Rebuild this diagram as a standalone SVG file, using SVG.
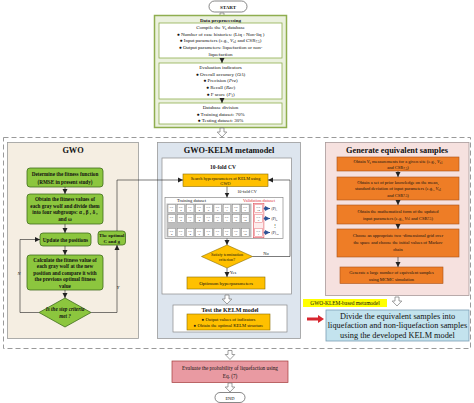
<svg xmlns="http://www.w3.org/2000/svg" width="474" height="403" viewBox="0 0 474 403">
<defs>
<marker id="ah" markerWidth="6" markerHeight="6" refX="5" refY="3" orient="auto" markerUnits="userSpaceOnUse"><path d="M0,0.5 L5,3 L0,5.5 z" fill="#222"/></marker>
<marker id="ahb" markerWidth="6" markerHeight="6" refX="5" refY="3" orient="auto" markerUnits="userSpaceOnUse"><path d="M0,0.5 L5,3 L0,5.5 z" fill="#2f5496"/></marker>
<path id="hollow" d="M-2,0 h4 v4 h2.8 l-4.8,5 l-4.8,-5 h2.8 z" fill="#fff" stroke="#777" stroke-width="0.7"/>
<style>
text{font-family:"Liberation Serif","Times New Roman",serif;fill:#111}
.t5{font-size:5px;text-anchor:middle}
.gb{font-size:5.2px;font-weight:bold;text-anchor:middle}
.ttl{font-size:8.3px;font-weight:bold;text-anchor:middle}
.or{font-size:4.5px;text-anchor:middle}
.cv{font-size:2.8px;text-anchor:middle}
.ln{fill:none;stroke:#222;stroke-width:0.6}
.green{fill:#8cc63e;stroke:#3f6d1c;stroke-width:0.8}
.gold{fill:#ffc000;stroke:#8a6d00;stroke-width:0.6}
.orange{fill:#ee7d26;stroke:#a8521a;stroke-width:0.6}
.inner{fill:#fff;stroke:#8fae4f;stroke-width:0.8}
</style>
</defs>

<g id="start"><rect x="209" y="1" width="38" height="11" rx="5.5" fill="#fff" stroke="#555" stroke-width="0.7"/><text x="228" y="9" class="t5" font-weight="bold">START</text></g>
<use href="#hollow" x="222" y="13"/>

<g id="data-preprocessing">
<rect x="154.5" y="15.5" width="132" height="112" fill="#ebf1de" stroke="#8fae4f" stroke-width="1.5"/>
<text x="220.5" y="21.5" class="t5" font-weight="bold">Data preprocessing</text>
<rect x="159" y="23" width="123" height="35" class="inner"/>
<text x="220.5" y="28.5" class="t5">Compile the <tspan font-style="italic">V</tspan><tspan font-size="3.5" dy="1">s</tspan><tspan dy="-1"> database</tspan></text>
<text x="220.5" y="35.5" class="t5">● Number of case histories:  (Liq : Non-liq )</text>
<text x="220.5" y="42" class="t5">● Input parameters (e.g., <tspan font-style="italic">V</tspan><tspan font-size="3.5" dy="1">s1</tspan><tspan dy="-1"> and CSR</tspan><tspan font-size="3.5" dy="1">7.5</tspan><tspan dy="-1">)</tspan></text>
<text x="220.5" y="49" class="t5">● Output parameters: liquefaction or non-</text>
<text x="220.5" y="55.5" class="t5">liquefaction</text>
<rect x="159" y="63" width="123" height="36" class="inner"/>
<text x="220.5" y="69" class="t5">Evaluation indicators</text>
<text x="220.5" y="75.5" class="t5">● Overall accuracy (<tspan font-style="italic">OA</tspan>)</text>
<text x="220.5" y="82" class="t5">● Precision (<tspan font-style="italic">Pre</tspan>)</text>
<text x="220.5" y="88.5" class="t5">● Recall (<tspan font-style="italic">Rec</tspan>)</text>
<text x="220.5" y="95.5" class="t5">● F score (<tspan font-style="italic">F</tspan><tspan font-size="3.5" dy="1">1</tspan><tspan dy="-1">)</tspan></text>
<rect x="159" y="103" width="123" height="21" class="inner"/>
<text x="220.5" y="109" class="t5">Database division</text>
<text x="220.5" y="115.5" class="t5">● Training dataset: 70%</text>
<text x="220.5" y="122" class="t5">● Testing dataset: 30%</text>
</g>
<use href="#hollow" x="222" y="128"/>

<rect x="3.5" y="137.5" width="467" height="211" fill="none" stroke="#9a9a9a" stroke-width="1" stroke-dasharray="5 3"/>

<g id="gwo-panel">
<rect x="7.5" y="142.5" width="131" height="196" fill="#f5eee2" stroke="#9a9a9a" stroke-width="0.8"/>
<text x="73" y="153" class="ttl">GWO</text>
</g>
<g id="gwo-determine"><rect x="27" y="168" width="76" height="19" rx="3" class="green"/>
<text x="65" y="176" class="gb">Determine the fitness function</text><text x="65" y="183.5" class="gb">(RMSE in present study)</text></g>
<g id="gwo-obtain"><rect x="27" y="194" width="76" height="30" rx="3" class="green"/>
<text x="65" y="201" class="gb">Obtain the fitness values of</text><text x="65" y="207.5" class="gb">each gray wolf and divide them</text><text x="65" y="214" class="gb">into four subgroups: α , β , δ ,</text><text x="65" y="220.5" class="gb">and ω</text></g>
<g id="gwo-update"><rect x="40" y="233" width="51" height="13" rx="3" class="green"/><text x="65.5" y="241.5" class="gb">Update the positions</text></g>
<g id="gwo-optimal"><rect x="98" y="231" width="27.5" height="14" rx="3" class="green"/><text x="111.7" y="237.3" class="gb" style="font-size:4.9px">The optimal</text><text x="111.7" y="243.3" class="gb" style="font-size:4.9px">C and g</text></g>
<g id="gwo-calculate"><rect x="27" y="255" width="76" height="35" rx="3" class="green"/>
<text x="65" y="261.5" class="gb">Calculate the fitness value of</text><text x="65" y="268" class="gb">each gray wolf at the new</text><text x="65" y="274.5" class="gb">position and compare it with</text><text x="65" y="281" class="gb">the previous optimal fitness</text><text x="65" y="287.5" class="gb">value</text></g>
<g id="gwo-criteria"><path d="M65,298 L91,312.5 L65,327 L39,312.5 z" class="green"/>
<text x="65" y="311" class="gb" font-style="italic">Is the step criteria</text><text x="65" y="317.5" class="gb" font-style="italic">met ?</text></g>

<g id="kelm-panel">
<rect x="157.5" y="142.5" width="143" height="196" fill="#dde5ee" stroke="#9a9a9a" stroke-width="0.8"/>
<text x="229" y="153" class="ttl">GWO-KELM metamodel</text>
<rect x="162" y="158" width="129.5" height="136" fill="#fff" stroke="#8a8a8a" stroke-width="0.7"/>
<text x="223" y="169" class="t5" style="font-size:5.5px" font-weight="bold">10-fold CV</text>
</g>
<g id="kelm-search"><rect x="183" y="174" width="85" height="12.5" class="gold"/>
<text x="225.5" y="179.5" class="or" style="font-size:4.3px">Search hyperparameters of KELM using</text><text x="225.5" y="184.7" class="or" style="font-size:4.3px">GWO</text></g>
<g id="kelm-cv">
<text x="247" y="193" class="or" style="font-size:4.3px">10-fold CV</text>
<rect x="165" y="197.5" width="118" height="41" fill="#fff" stroke="#8a8a8a" stroke-width="0.7"/>
<text x="177" y="202.3" style="font-size:4.5px">Training dataset</text>
<text x="243" y="202.3" style="font-size:4.5px;fill:#e0303a">Validation dataset</text>
<rect x="166.5" y="203.5" width="85" height="34" fill="#bdbdbd"/>
<rect x="253.3" y="203.3" width="10.6" height="34.4" fill="#fdecec" stroke="#e0505a" stroke-width="0.6"/>
<g fill="#fff" stroke="#7a7a7a" stroke-width="0.4">
<rect x="168" y="204.5" width="7.5" height="8"/><rect x="177.2" y="204.5" width="7.5" height="8"/><rect x="186.4" y="204.5" width="7.5" height="8"/><rect x="195.6" y="204.5" width="7.5" height="8"/><rect x="204.8" y="204.5" width="7.5" height="8"/><rect x="214" y="204.5" width="7.5" height="8"/><rect x="223.2" y="204.5" width="7.5" height="8"/><rect x="232.4" y="204.5" width="7.5" height="8"/><rect x="241.6" y="204.5" width="7.5" height="8"/>
<rect x="168" y="214.5" width="7.5" height="8"/><rect x="177.2" y="214.5" width="7.5" height="8"/><rect x="186.4" y="214.5" width="7.5" height="8"/><rect x="195.6" y="214.5" width="7.5" height="8"/><rect x="204.8" y="214.5" width="7.5" height="8"/><rect x="214" y="214.5" width="7.5" height="8"/><rect x="223.2" y="214.5" width="7.5" height="8"/><rect x="232.4" y="214.5" width="7.5" height="8"/><rect x="241.6" y="214.5" width="7.5" height="8"/>
<rect x="168" y="228.5" width="7.5" height="8"/><rect x="177.2" y="228.5" width="7.5" height="8"/><rect x="186.4" y="228.5" width="7.5" height="8"/><rect x="195.6" y="228.5" width="7.5" height="8"/><rect x="204.8" y="228.5" width="7.5" height="8"/><rect x="214" y="228.5" width="7.5" height="8"/><rect x="223.2" y="228.5" width="7.5" height="8"/><rect x="232.4" y="228.5" width="7.5" height="8"/><rect x="241.6" y="228.5" width="7.5" height="8"/>
</g>
<g fill="#fff" stroke="#e0505a" stroke-width="0.4"><rect x="254.8" y="204.5" width="7.5" height="8"/><rect x="254.8" y="214.5" width="7.5" height="8"/><rect x="254.8" y="228.5" width="7.5" height="8"/></g>
<g class="cv">
<text x="171.7" y="208" class="cv">CV</text><text x="180.9" y="208" class="cv">CV</text><text x="190.1" y="208" class="cv">CV</text><text x="199.3" y="208" class="cv">CV</text><text x="208.5" y="208" class="cv">CV</text><text x="217.7" y="208" class="cv">CV</text><text x="226.9" y="208" class="cv">CV</text><text x="236.1" y="208" class="cv">CV</text><text x="245.3" y="208" class="cv">CV</text><text x="258.5" y="208" class="cv">CV</text>
<text x="171.7" y="211" class="cv">1</text><text x="180.9" y="211" class="cv">2</text><text x="190.1" y="211" class="cv">3</text><text x="199.3" y="211" class="cv">4</text><text x="208.5" y="211" class="cv">5</text><text x="217.7" y="211" class="cv">6</text><text x="226.9" y="211" class="cv">7</text><text x="236.1" y="211" class="cv">8</text><text x="245.3" y="211" class="cv">9</text><text x="258.5" y="211" class="cv">10</text>
<text x="171.7" y="218" class="cv">CV</text><text x="180.9" y="218" class="cv">CV</text><text x="190.1" y="218" class="cv">CV</text><text x="199.3" y="218" class="cv">CV</text><text x="208.5" y="218" class="cv">CV</text><text x="217.7" y="218" class="cv">CV</text><text x="226.9" y="218" class="cv">CV</text><text x="236.1" y="218" class="cv">CV</text><text x="245.3" y="218" class="cv">CV</text><text x="258.5" y="218" class="cv">CV</text>
<text x="171.7" y="221" class="cv">1</text><text x="180.9" y="221" class="cv">2</text><text x="190.1" y="221" class="cv">3</text><text x="199.3" y="221" class="cv">4</text><text x="208.5" y="221" class="cv">5</text><text x="217.7" y="221" class="cv">6</text><text x="226.9" y="221" class="cv">7</text><text x="236.1" y="221" class="cv">8</text><text x="245.3" y="221" class="cv">10</text><text x="258.5" y="221" class="cv">9</text>
<text x="171.7" y="232" class="cv">CV</text><text x="180.9" y="232" class="cv">CV</text><text x="190.1" y="232" class="cv">CV</text><text x="199.3" y="232" class="cv">CV</text><text x="208.5" y="232" class="cv">CV</text><text x="217.7" y="232" class="cv">CV</text><text x="226.9" y="232" class="cv">CV</text><text x="236.1" y="232" class="cv">CV</text><text x="245.3" y="232" class="cv">CV</text><text x="258.5" y="232" class="cv">CV</text>
<text x="171.7" y="235" class="cv">2</text><text x="180.9" y="235" class="cv">3</text><text x="190.1" y="235" class="cv">4</text><text x="199.3" y="235" class="cv">5</text><text x="208.5" y="235" class="cv">6</text><text x="217.7" y="235" class="cv">7</text><text x="226.9" y="235" class="cv">8</text><text x="236.1" y="235" class="cv">9</text><text x="245.3" y="235" class="cv">10</text><text x="258.5" y="235" class="cv">1</text>
</g>
<g stroke="#2f5496" stroke-width="1" marker-end="url(#ahb)"><line x1="264.5" y1="208.5" x2="270" y2="208.5"/><line x1="264.5" y1="218.5" x2="270" y2="218.5"/><line x1="264.5" y1="232.5" x2="270" y2="232.5"/></g>
<g fill="#2f5496"><circle cx="265" cy="208.5" r="1.2"/><circle cx="265" cy="218.5" r="1.2"/><circle cx="265" cy="232.5" r="1.2"/></g>
<text x="271.5" y="210" style="font-size:3.6px">(P)<tspan font-size="2.6" dy="0.8">1</tspan></text>
<text x="271.5" y="220" style="font-size:3.6px">(P)<tspan font-size="2.6" dy="0.8">2</tspan></text>
<text x="275" y="226.5" style="font-size:4px;text-anchor:middle">⋮</text>
<text x="271.5" y="234" style="font-size:3.6px">(P)<tspan font-size="2.6" dy="0.8">10</tspan></text>
</g>
<g id="kelm-terminate"><path d="M227,245 L252.5,256.5 L227,268 L201.5,256.5 z" class="gold"/>
<text x="227" y="255.5" class="or" style="font-size:4.2px">Satisfy termination</text><text x="227" y="260.5" class="or" style="font-size:4.2px">criterion?</text></g>
<g id="kelm-optimum"><rect x="187" y="277" width="78" height="12" class="gold"/><text x="226" y="284.6" class="t5">Optimum hyperparameters</text></g>
<use href="#hollow" x="227" y="295"/>
<g id="kelm-test"><rect x="173" y="305" width="114" height="27" fill="#fff" stroke="#8a8a8a" stroke-width="0.7"/>
<text x="230" y="311.5" class="t5" style="font-size:6px" font-weight="bold">Test the KELM model</text>
<rect x="187" y="314" width="83" height="16" class="gold"/>
<text x="228.5" y="320.5" class="or" style="font-size:4.6px">● Output values of indicators</text>
<text x="228.5" y="327" class="or" style="font-size:4.6px">● Obtain the optimal KELM structure</text></g>

<g id="gen-panel">
<rect x="325.5" y="142.5" width="143.5" height="153" fill="#f6e1df" stroke="#a89a9a" stroke-width="0.8"/>
<text x="397" y="153" class="ttl">Generate equivalent samples</text>
</g>
<g id="gen-1"><rect x="337" y="157" width="122" height="14" class="orange"/>
<text x="398" y="163" class="or">Obtain <tspan font-style="italic">V</tspan><tspan font-size="3.2" dy="0.8">s</tspan><tspan dy="-0.8"> measurements for a given site (e.g., </tspan><tspan font-style="italic">V</tspan><tspan font-size="3.2" dy="0.8">s1</tspan></text>
<text x="398" y="169" class="or">and CSR<tspan font-size="3.2" dy="0.8">7.5</tspan><tspan dy="-0.8">)</tspan></text></g>
<g id="gen-2"><rect x="337" y="177" width="122" height="23" class="orange"/>
<text x="398" y="183.5" class="or">Obtain a set of prior knowledge on the mean,</text>
<text x="398" y="190" class="or">standard deviation of input parameters (e.g., <tspan font-style="italic">V</tspan><tspan font-size="3.2" dy="0.8">s1</tspan></text>
<text x="398" y="196.5" class="or">and CSR<tspan font-size="3.2" dy="0.8">7.5</tspan><tspan dy="-0.8">)</tspan></text></g>
<g id="gen-3"><rect x="337" y="205" width="122" height="19" class="orange"/>
<text x="398" y="212.5" class="or">Obtain the mathematical form of  the updated</text>
<text x="398" y="219.5" class="or">input parameters (e.g., <tspan font-style="italic">V</tspan><tspan font-size="3.2" dy="0.8">s1</tspan><tspan dy="-0.8"> and CSR</tspan><tspan font-size="3.2" dy="0.8">7.5</tspan><tspan dy="-0.8">)</tspan></text></g>
<g id="gen-4"><rect x="337" y="229" width="122" height="28" class="orange"/>
<text x="398" y="237" class="or">Choose an appropriate two -dimensional grid over</text>
<text x="398" y="244" class="or">the space and choose the initial values of Markov</text>
<text x="398" y="251" class="or">chain</text></g>
<g id="gen-5"><rect x="340" y="267" width="103" height="16.5" class="orange"/>
<text x="391.5" y="274" class="or">Generate a large number of equivalent samples</text>
<text x="391.5" y="280.5" class="or">using MCMC simulation</text></g>
<use href="#hollow" x="397" y="297"/>

<g id="label-gwo-klem"><rect x="303" y="299" width="84" height="8" fill="#ffff00"/><text x="345" y="305.3" class="t5" style="font-size:5.4px">GWO-KLEM-based metamodel</text></g>
<g id="divide"><rect x="326" y="310" width="143" height="31" fill="#c3e3ee" stroke="#7b9db3" stroke-width="0.8"/>
<text x="397.5" y="318.5" class="t5" style="font-size:8.3px">Divide the equivalent samples into</text>
<text x="397.5" y="328" class="t5" style="font-size:8.3px">liquefaction and non-liquefaction samples</text>
<text x="397.5" y="337.5" class="t5" style="font-size:8.3px">using the developed KELM model</text></g>
<path d="M307,317.5 h11 v-2.5 l6,4 l-6,4 v-2.5 h-11 z" fill="#d7262f"/>

<use href="#hollow" x="230" y="350.5"/>
<g id="evaluate"><rect x="172" y="361" width="116" height="21.5" fill="#e99aa2" stroke="#a33a3a" stroke-width="0.7"/>
<text x="230" y="369.5" class="t5" style="font-size:5.3px">Evaluate the probability of liquefaction using</text>
<text x="230" y="377.5" class="t5" style="font-size:5.3px">Eq. (7)</text></g>
<use href="#hollow" x="230" y="383"/>
<g id="end"><rect x="215" y="392.5" width="30" height="10" rx="5" fill="#fff" stroke="#555" stroke-width="0.7"/><text x="230" y="399.5" class="t5" style="font-size:4.5px">END</text></g>

<g id="connectors">
<line x1="222" y1="58" x2="222" y2="63" class="ln" marker-end="url(#ah)"/>
<line x1="222" y1="99" x2="222" y2="103" class="ln" marker-end="url(#ah)"/>
<line x1="65" y1="187" x2="65" y2="194" class="ln" marker-end="url(#ah)"/>
<line x1="65" y1="224" x2="65" y2="233" class="ln" marker-end="url(#ah)"/>
<line x1="65" y1="246" x2="65" y2="255" class="ln" marker-end="url(#ah)"/>
<line x1="65" y1="290" x2="65" y2="298" class="ln" marker-end="url(#ah)"/>
<polyline points="39,312.5 20,312.5 20,239.5 40,239.5" class="ln" marker-end="url(#ah)"/>
<polyline points="91,312.5 117,312.5 117,245" class="ln" marker-end="url(#ah)"/>
<polyline points="117,231 117,180 183,180" class="ln" marker-end="url(#ah)"/>
<line x1="227" y1="186.5" x2="227" y2="197.5" class="ln" marker-end="url(#ah)"/>
<line x1="227" y1="238.5" x2="227" y2="245" class="ln" marker-end="url(#ah)"/>
<polyline points="252.5,256.5 290,256.5 290,180 268,180" class="ln" marker-end="url(#ah)"/>
<line x1="227" y1="268" x2="227" y2="277" class="ln" marker-end="url(#ah)"/>
<line x1="398" y1="171" x2="398" y2="177" class="ln" marker-end="url(#ah)"/>
<line x1="398" y1="200" x2="398" y2="205" class="ln" marker-end="url(#ah)"/>
<line x1="398" y1="224" x2="398" y2="229" class="ln" marker-end="url(#ah)"/>
<line x1="398" y1="257" x2="398" y2="267" class="ln" marker-end="url(#ah)"/>
<text x="19" y="275" class="t5" style="font-size:4.5px" font-style="italic">N</text>
<text x="118" y="289" class="t5" style="font-size:4.5px" font-style="italic">Y</text>
<text x="266" y="254.5" class="t5" style="font-size:4.5px">No</text>
<text x="233" y="274" class="t5" style="font-size:4.5px">Yes</text>
</g>
</svg>
